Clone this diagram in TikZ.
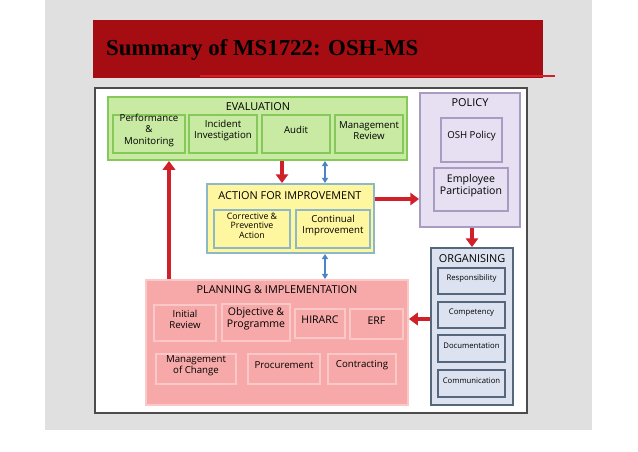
\documentclass[tikz,border=0pt]{standalone}
\usepackage{fontspec}
\setmainfont{Open Sans}
\newfontfamily\titlefont{Liberation Serif}
\usetikzlibrary{fit,arrows.meta}
\definecolor{tred}{HTML}{A50D12}
\definecolor{ared}{HTML}{D0202A}
\definecolor{ablue}{HTML}{4A86C5}
\definecolor{gfill}{HTML}{C8EAA2}
\definecolor{gline}{HTML}{86C85A}
\definecolor{pfill}{HTML}{E6E0F2}
\definecolor{pline}{HTML}{A89CC2}
\definecolor{yfill}{HTML}{FFF6A0}
\definecolor{yline}{HTML}{8DB8C8}
\definecolor{ofill}{HTML}{DCE2F0}
\definecolor{oline}{HTML}{56667C}
\definecolor{kfill}{HTML}{F7A9A9}
\definecolor{kline}{HTML}{FBC8C8}
\begin{document}
\begin{tikzpicture}[x=0.02cm,y=-0.02cm,
  bx/.style={inner sep=0pt, align=center, font=\fontsize{5.5}{6.5}\selectfont, line width=1.1pt},
  ttl/.style={font=\fontsize{6.2}{7}\selectfont},
  redarr/.style={draw=ared, line width=2pt, -{Triangle[length=5pt,width=7pt]}},
  bluearr/.style={draw=ablue, line width=1pt, {Triangle[length=3pt,width=3.5pt]}-{Triangle[length=3pt,width=3.5pt]}}]
\useasboundingbox (0,0) rectangle (638,451);
\fill[white] (0,0) rectangle (638,451);
\fill[black!12] (45,0) rectangle (592,430);
\fill[tred] (93,20) rectangle (543,78);
\draw[ared, line width=1pt] (200,76) -- (555,76);
\node[anchor=west, font=\titlefont\bfseries\fontsize{13}{15}\selectfont] (title) at (100,50) {Summary of MS1722: OSH-MS};
\draw[fill=white, draw=black!70, line width=0.6pt] (95,88) rectangle (527,413);
% evaluation
\node[bx, draw=gline, fill=gfill, fit={(108,97) (407,160)}] (eval) {};
\node[ttl] (evalt) at (258,107) {EVALUATION};
\node[bx, draw=gline, fit={(113,115) (185,153)}] (perf) {Performance\\\&\\Monitoring};
\node[bx, draw=gline, fit={(189,115) (257,153)}] (inc) {Incident\\Investigation};
\node[bx, draw=gline, fit={(262,115) (330,153)}] (aud) {Audit};
\node[bx, draw=gline, fit={(335,115) (403,153)}] (mgr) {Management\\Review};
% policy
\node[bx, draw=pline, fill=pfill, fit={(420,93) (520,227)}] (pol) {};
\node[ttl] (polt) at (470,103) {POLICY};
\node[bx, draw=pline, fit={(441,118) (502,162)}] (osh) {OSH Policy};
\node[bx, draw=pline, fit={(434,168) (508,211)}, font=\fontsize{6}{7}\selectfont] (emp) {Employee\\Participation};
% action
\node[bx, draw=yline, fill=yfill, fit={(207,184) (374,253)}] (act) {};
\node[ttl] (actt) at (290,196) {ACTION FOR IMPROVEMENT};
\node[bx, draw=yline, fit={(214,210) (290,248)}, font=\fontsize{5}{5.6}\selectfont] (cor) {Corrective \&\\Preventive\\Action};
\node[bx, draw=yline, fit={(296,210) (370,248)}] (con) {Continual\\Improvement};
% organising
\node[bx, draw=oline, fill=ofill, fit={(431,248) (513,405)}] (org) {};
\node[ttl] (orgt) at (472,259) {ORGANISING};
\node[bx, draw=oline, fit={(438,268) (505,294)}, font=\fontsize{4.4}{5}\selectfont] (res) {Responsibility};
\node[bx, draw=oline, fit={(438,302) (505,328)}, font=\fontsize{4.4}{5}\selectfont] (comp) {Competency};
\node[bx, draw=oline, fit={(438,335) (505,362)}, font=\fontsize{4.4}{5}\selectfont] (doc) {Documentation};
\node[bx, draw=oline, fit={(438,370) (505,397)}, font=\fontsize{4.4}{5}\selectfont] (com) {Communication};
% planning
\node[bx, draw=kline, fill=kfill, fit={(146,280) (408,405)}] (plan) {};
\node[ttl] (plant) at (277,290) {PLANNING \& IMPLEMENTATION};
\node[bx, draw=kline, fit={(154,305) (216,341)}] (ini) {Initial\\Review};
\node[bx, draw=kline, fit={(222,304) (290,341)}, font=\fontsize{6}{7}\selectfont] (obj) {Objective \&\\Programme};
\node[bx, draw=kline, fit={(295,309) (345,338)}, font=\fontsize{6}{7}\selectfont] (hir) {HIRARC};
\node[bx, draw=kline, fit={(350,309) (403,339)}, font=\fontsize{6}{7}\selectfont] (erf) {ERF};
\node[bx, draw=kline, fit={(156,354) (236,384)}] (moc) {Management\\of Change};
\node[bx, draw=kline, fit={(248,354) (320,384)}] (pro) {Procurement};
\node[bx, draw=kline, fit={(328,354) (396,384)}] (ctr) {Contracting};
% arrows
\draw[redarr] (plan.north -| 169,0) -- (eval.south -| 169,0);
\draw[redarr] (eval.south -| 282,0) -- (act.north -| 282,0);
\draw[bluearr] (eval.south -| 325,0) -- (act.north -| 325,0);
\draw[redarr] (act.east |- 0,199) -- (pol.west |- 0,199);
\draw[redarr] (pol.south -| 472,0) -- (org.north -| 472,0);
\draw[bluearr] (act.south -| 325,0) -- (plan.north -| 325,0);
\draw[redarr] (org.west |- 0,319) -- (plan.east |- 0,319);
\end{tikzpicture}
\end{document}
